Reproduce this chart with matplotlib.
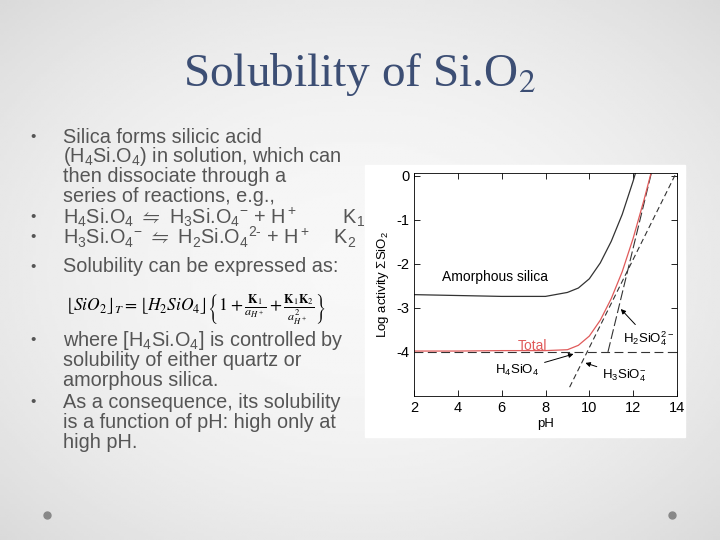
import numpy as np
import matplotlib.pyplot as plt

# curve values
ph_total = [2, 4, 6, 8, 9, 9.5, 10, 10.5, 11, 11.5, 12, 12.5, 12.8, 12.9]
log_total = [-3.98, -3.98, -3.97, -3.97, -3.95, -3.85, -3.64, -3.28, -2.79, -2.18, -1.42, -0.54, 0.03, 0.23]
ph_amorph = [2, 4, 6, 8, 9, 9.5, 10, 10.5, 11, 11.5, 12, 12.1]
log_amorph = [-2.70, -2.72, -2.74, -2.74, -2.65, -2.55, -2.34, -1.98, -1.49, -0.88, -0.12, 0.05]
ph_h4 = [2, 14]
log_h4 = [-4.0, -4.0]
ph_h3 = [9.1, 14]
log_h3 = [-4.8, 0.1]
ph_h2 = [10.85, 12.85]
log_h2 = [-4.0, 0.1]

eqm = r"$\leftrightharpoons$"
bullets = [
    (137, "•", "Silica forms silicic acid"),
    (157, "", "(H$_4$Si.O$_4$) in solution, which can"),
    (177, "", "then dissociate through a"),
    (197, "", "series of reactions, e.g.,"),
    (217, "•", "H$_4$Si.O$_4$ " + eqm + " H$_3$Si.O$_4$$^{-}$ + H$^+$        K$_1$"),
    (237, "•", "H$_3$Si.O$_4$$^{-}$ " + eqm + " H$_2$Si.O$_4$$^{2\u2010}$ + H$^+$    K$_2$"),
    (267, "•", "Solubility can be expressed as:"),
    (340, "•", "where [H$_4$Si.O$_4$] is controlled by"),
    (360, "", "solubility of either quartz or"),
    (380, "", "amorphous silica."),
    (402, "•", "As a consequence, its solubility"),
    (422, "", "is a function of pH: high only at"),
    (442, "", "high pH."),
]

plt.rcParams['font.family'] = ['Liberation Sans', 'DejaVu Sans']
plt.rcParams['axes.unicode_minus'] = False
plt.rcParams['mathtext.fontset'] = 'custom'
plt.rcParams['mathtext.rm'] = 'Liberation Sans'
plt.rcParams['mathtext.it'] = 'Liberation Sans:italic'
plt.rcParams['mathtext.fallback'] = 'stixsans'

fig = plt.figure(figsize=(7.2, 5.4), dpi=100)
W, H = 720, 540

# slide background
bg = fig.add_axes([0, 0, 1, 1])
yy, xx = np.mgrid[0:1:200j, 0:1:270j]
r = np.sqrt(((xx - 0.5) / 0.75) ** 2 + ((yy - 0.5) / 0.75) ** 2)
bg.imshow(0.97 - 0.13 * r ** 2, cmap='gray', vmin=0, vmax=1, extent=[0, 1, 0, 1], aspect='auto')
bg.axis('off')
bg.set_xlim(0, 1)
bg.set_ylim(0, 1)
# white chart panel
bg.add_patch(plt.Rectangle((365 / W, 1 - 437 / H), 320 / W, 272 / H, color='white'))
for x in [47, 672]:
    bg.plot(x / W, 1 - 515 / H, 'o', color='#888888', ms=5)

fig.text(0.5, 1 - 75 / H, "Solubility of Si.O$_2$", ha='center', va='center',
         fontsize=34, family='Liberation Serif', color='#3c4e74', math_fontfamily='stix')

for y, b, t in bullets:
    if b:
        fig.text(30 / W, 1 - y / H, b, va='center', fontsize=11, color='#555555')
    fig.text(63 / W, 1 - y / H, t, va='center', fontsize=14.3, color='#555555')

eq = (r"$\lfloor SiO_2\rfloor_T = \lfloor H_2SiO_4\rfloor\left\{1 + \frac{\mathbf{K}_1}{a_{H^+}}"
      r" + \frac{\mathbf{K}_1\mathbf{K}_2}{a^2_{H^+}}\right\}$")
fig.text(65 / W, 1 - 310 / H, eq, va='center', fontsize=12.5, math_fontfamily='stix', color='black')

# chart
ax = fig.add_axes([414 / W, 1 - 396 / H, 263 / W, 223 / H])
ax.plot(ph_amorph, log_amorph, color='#333333', lw=0.9)
ax.plot(ph_h4, log_h4, color='#333333', lw=0.8, dashes=(8, 4))
ax.plot(ph_h3, log_h3, color='#333333', lw=0.8, dashes=(5, 3))
ax.plot(ph_h2, log_h2, color='#333333', lw=0.8, dashes=(9, 3))
ax.plot(ph_total, log_total, color='#e05a5a', lw=0.9)
ax.set_xlim(2, 14)
ax.set_ylim(-5, 0.06)
ax.set_xticks([2, 4, 6, 8, 10, 12, 14])
ax.set_yticks([0, -1, -2, -3, -4])
ax.tick_params(direction='in', top=True, right=True, labelsize=10.5, length=4, width=0.6)
for s in ax.spines.values():
    s.set_linewidth(0.6)
ax.set_xlabel("pH", fontsize=9.5, labelpad=2)
ax.set_ylabel(r"Log activity $\Sigma$SiO$_2$", fontsize=9.5)
ax.text(3.3, -2.3, "Amorphous silica", fontsize=10, va='center')
ax.text(7.4, -3.86, "Total", fontsize=10, color='#e05a5a', ha='center', va='center')
ap = dict(arrowstyle='-|>', color='black', lw=0.7, mutation_scale=7)
ax.annotate("H$_4$SiO$_4$", xy=(9.4, -4.03), xytext=(6.7, -4.42), fontsize=9.5,
            ha='center', va='center', arrowprops=ap)
ax.annotate("H$_3$SiO$_4^{-}$", xy=(9.7, -4.23), xytext=(11.6, -4.54), fontsize=9.5,
            ha='center', va='center', arrowprops=ap)
ax.annotate("H$_2$SiO$_4^{2-}$", xy=(11.35, -2.98), xytext=(12.7, -3.7), fontsize=9.5,
            ha='center', va='center', arrowprops=ap)

fig.savefig("out.png", dpi=100)
